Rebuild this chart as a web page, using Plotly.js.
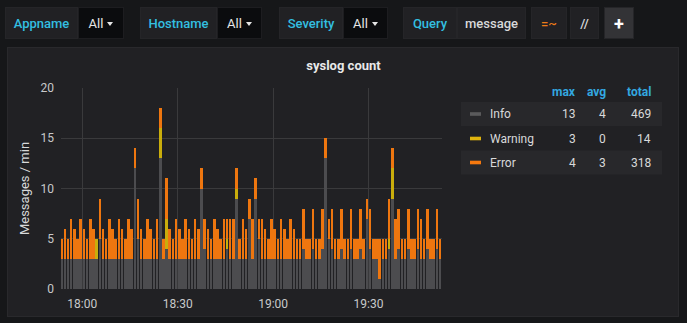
<!DOCTYPE html>
<html>
<head>
<meta charset="utf-8">
<script src="https://cdn.plot.ly/plotly-3.0.1.min.js"></script>
<style>
  html, body { margin:0; padding:0; background:#161719; width:687px; height:323px; overflow:hidden; font-family: Roboto, "Open Sans", sans-serif; }
  #panel { position:absolute; left:7px; top:47px; width:672px; height:270px; background:#212124; border:1px solid #29292c; box-sizing:border-box; }
  #chart { position:absolute; left:0; top:0; width:687px; height:323px; }
  .box { position:absolute; top:7px; height:32px; line-height:32px; text-align:center; font-size:13px; font-weight:500; box-sizing:border-box; }
  .lbl { background:#212124; color:#33bfe0; border:1px solid #252528; }
  .dd { background:#0b0c0e; color:#e6e6e6; border:1px solid #1d1d20; font-weight:400; }
  .caret { display:inline-block; width:0; height:0; border-left:3.5px solid transparent; border-right:3.5px solid transparent; border-top:4px solid #e6e6e6; margin-left:4px; vertical-align:middle; position:relative; top:-1px; }
</style>
</head>
<body>
<div id="panel"></div>
<div id="chart"></div>

<div class="box lbl" style="left:5px;width:73px;">Appname</div>
<div class="box dd" style="left:78px;width:46px;">All<span class="caret"></span></div>
<div class="box lbl" style="left:140px;width:77px;">Hostname</div>
<div class="box dd" style="left:217px;width:45px;">All<span class="caret"></span></div>
<div class="box lbl" style="left:279px;width:64px;">Severity</div>
<div class="box dd" style="left:343px;width:45px;">All<span class="caret"></span></div>
<div class="box lbl" style="left:403px;width:54px;">Query</div>
<div class="box lbl" style="left:457px;width:69px;color:#d8d9da;">message</div>
<div class="box lbl" style="left:531px;width:36px;color:#eb7b18;">=~</div>
<div class="box lbl" style="left:570px;width:29px;color:#d8d9da;">//</div>
<div class="box lbl" style="left:604px;width:30px;background:#333336;color:#ffffff;font-size:18px;font-weight:700;">+</div>

<script>
// ---- data (one value per minute) ----
var startTime = "2019-03-12 17:53:30";
var info = [3,3,3,3,3,3,3,3,3,3, 3,3,5,3,3,3,3,3,3,3,
            3,3,3,12,5,3,3,3,3,3, 3,13,3,4,3,3,3,3,3,3,
            3,3,3,3,10,4,3,3,3,3, 3,3,4,3,3,9,3,3,3,7,
            3,9,5,3,3,3,3,3,3,3, 3,3,3,3,3,3,4,3,3,4,
            3,3,4,13,5,4,3,3,4,3, 3,4,3,3,4,3,7,4,3,3,
            1,3,3,4,9,3,4,3,3,4, 3,3,4,3,3,4,3,3,4,3];
var warning = [0,0,0,0,0,0,0,0,0,0, 0,2,0,0,0,0,0,0,0,0,
               0,0,0,0,0,0,0,0,0,0, 0,3,0,3,0,0,0,0,0,0,
               0,0,0,0,0,0,0,0,0,0, 0,0,1,0,0,1,0,0,0,0,
               0,0,0,0,0,0,0,0,0,0, 0,0,0,0,0,0,0,0,0,0,
               0,0,0,0,0,0,0,0,0,0, 0,0,0,0,0,0,0,0,0,0,
               0,0,0,1,3,0,0,0,0,0, 0,0,0,0,0,0,0,0,0,0];
var error = [2,3,2,4,3,2,4,3,2,4, 3,0,4,3,2,4,3,2,4,3,
             2,4,3,2,4,3,2,4,3,2, 4,2,2,4,3,2,4,3,2,4,
             3,2,4,3,2,3,3,2,4,3, 2,4,2,4,4,2,2,4,3,2,
             4,2,2,4,3,2,4,3,2,4, 3,2,4,3,2,2,4,2,2,4,
             2,2,4,2,2,4,2,2,4,2, 2,4,2,2,4,2,2,4,2,2,
             4,2,2,4,2,4,4,2,2,4, 2,2,4,4,2,4,2,2,4,2];

var seriesNames = ["Info", "Warning", "Error"];
var seriesColors = ["#4c4c4f", "#c9ad0c", "#ee760f"];
var swatchColors = ["#5a5a5c", "#e0b40e", "#f5780e"];
var legendMax = ["13", "3", "4"];
var legendAvg = ["4", "0", "3"];
var legendTotal = ["469", "14", "318"];
var legendHeaders = ["max", "avg", "total"];

// minute timestamps for the bars
var t0 = new Date(startTime.replace(" ", "T") + "Z").getTime();
var times = info.map(function (_, i) {
  return new Date(t0 + i * 60000).toISOString().replace("T", " ").replace("Z", "");
});

var traces = [info, warning, error].map(function (vals, k) {
  return {
    type: "bar", x: times, y: vals, name: seriesNames[k],
    marker: { color: seriesColors[k], line: { width: 0 } },
    hoverinfo: "skip"
  };
});

// layout helpers: paper coords for the legend table (plot area 61..442 x, 88..289 y)
function px(x) { return (x - 61) / 381; }
function py(y) { return (289 - y) / 201; }

var font = "Roboto, 'Open Sans', sans-serif";
var annotations = [];
var shapes = [];
var colRight = [578, 608, 653];

legendHeaders.forEach(function (h, j) {
  annotations.push({ xref: "paper", yref: "paper", x: px(colRight[j]), y: py(92), xanchor: "right", yanchor: "middle",
    text: "<b>" + h + "</b>", showarrow: false, font: { family: font, size: 12, color: "#33a8e0" } });
});
var rowY = [114, 138.5, 162.5];
seriesNames.forEach(function (n, i) {
  if (i !== 1) {
    shapes.push({ type: "rect", xref: "paper", yref: "paper", x0: px(461), x1: px(662), y0: py(rowY[i] - 12), y1: py(rowY[i] + 12),
      fillcolor: "#28282b", line: { width: 0 }, layer: "below" });
  }
  shapes.push({ type: "rect", xref: "paper", yref: "paper", x0: px(470), x1: px(481), y0: py(rowY[i] - 1.8), y1: py(rowY[i] + 1.8),
    fillcolor: swatchColors[i], line: { width: 0 } });
  annotations.push({ xref: "paper", yref: "paper", x: px(488), y: py(rowY[i]), xanchor: "left", yanchor: "middle",
    text: n, showarrow: false, font: { family: font, size: 12, color: "#d8d9da" } });
  [legendMax[i], legendAvg[i], legendTotal[i]].forEach(function (v, j) {
    annotations.push({ xref: "paper", yref: "paper", x: px(colRight[j]), y: py(rowY[i]), xanchor: "right", yanchor: "middle",
      text: v, showarrow: false, font: { family: font, size: 12, color: "#d8d9da" } });
  });
});

var layout = {
  width: 687, height: 323,
  margin: { l: 61, r: 245, t: 88, b: 34, pad: 0 },
  paper_bgcolor: "rgba(0,0,0,0)", plot_bgcolor: "rgba(0,0,0,0)",
  barmode: "stack", bargap: 0.2, showlegend: false,
  title: { text: "syslog count", x: 0.5, xref: "container", y: 1 - 65 / 323, yref: "container", yanchor: "middle", xanchor: "center",
    font: { family: font, size: 13, color: "#e9e9e9", weight: 700 } },
  xaxis: {
    type: "date", range: ["2019-03-12 17:53:18", "2019-03-12 19:53:06"],
    tick0: "2019-03-12 18:00:00", dtick: 30 * 60000, tickformat: "%H:%M",
    showgrid: true, gridcolor: "#3a3a3c", gridwidth: 1, zeroline: false, showline: false,
    ticks: "", ticklabelstandoff: 6, tickfont: { family: font, size: 12, color: "#c8c9ca" }
  },
  yaxis: {
    range: [0, 20], dtick: 5, tick0: 0, showgrid: true, gridcolor: "#3a3a3c", gridwidth: 1,
    zeroline: false, showline: false, ticks: "", ticklabelstandoff: 6,
    tickfont: { family: font, size: 12, color: "#c8c9ca" },
    title: { text: "Messages / min", standoff: 7, font: { family: font, size: 13, color: "#d8d9da" } }
  },
  annotations: annotations, shapes: shapes
};

Plotly.newPlot("chart", traces, layout, { staticPlot: true, displayModeBar: false });
</script>
</body>
</html>
